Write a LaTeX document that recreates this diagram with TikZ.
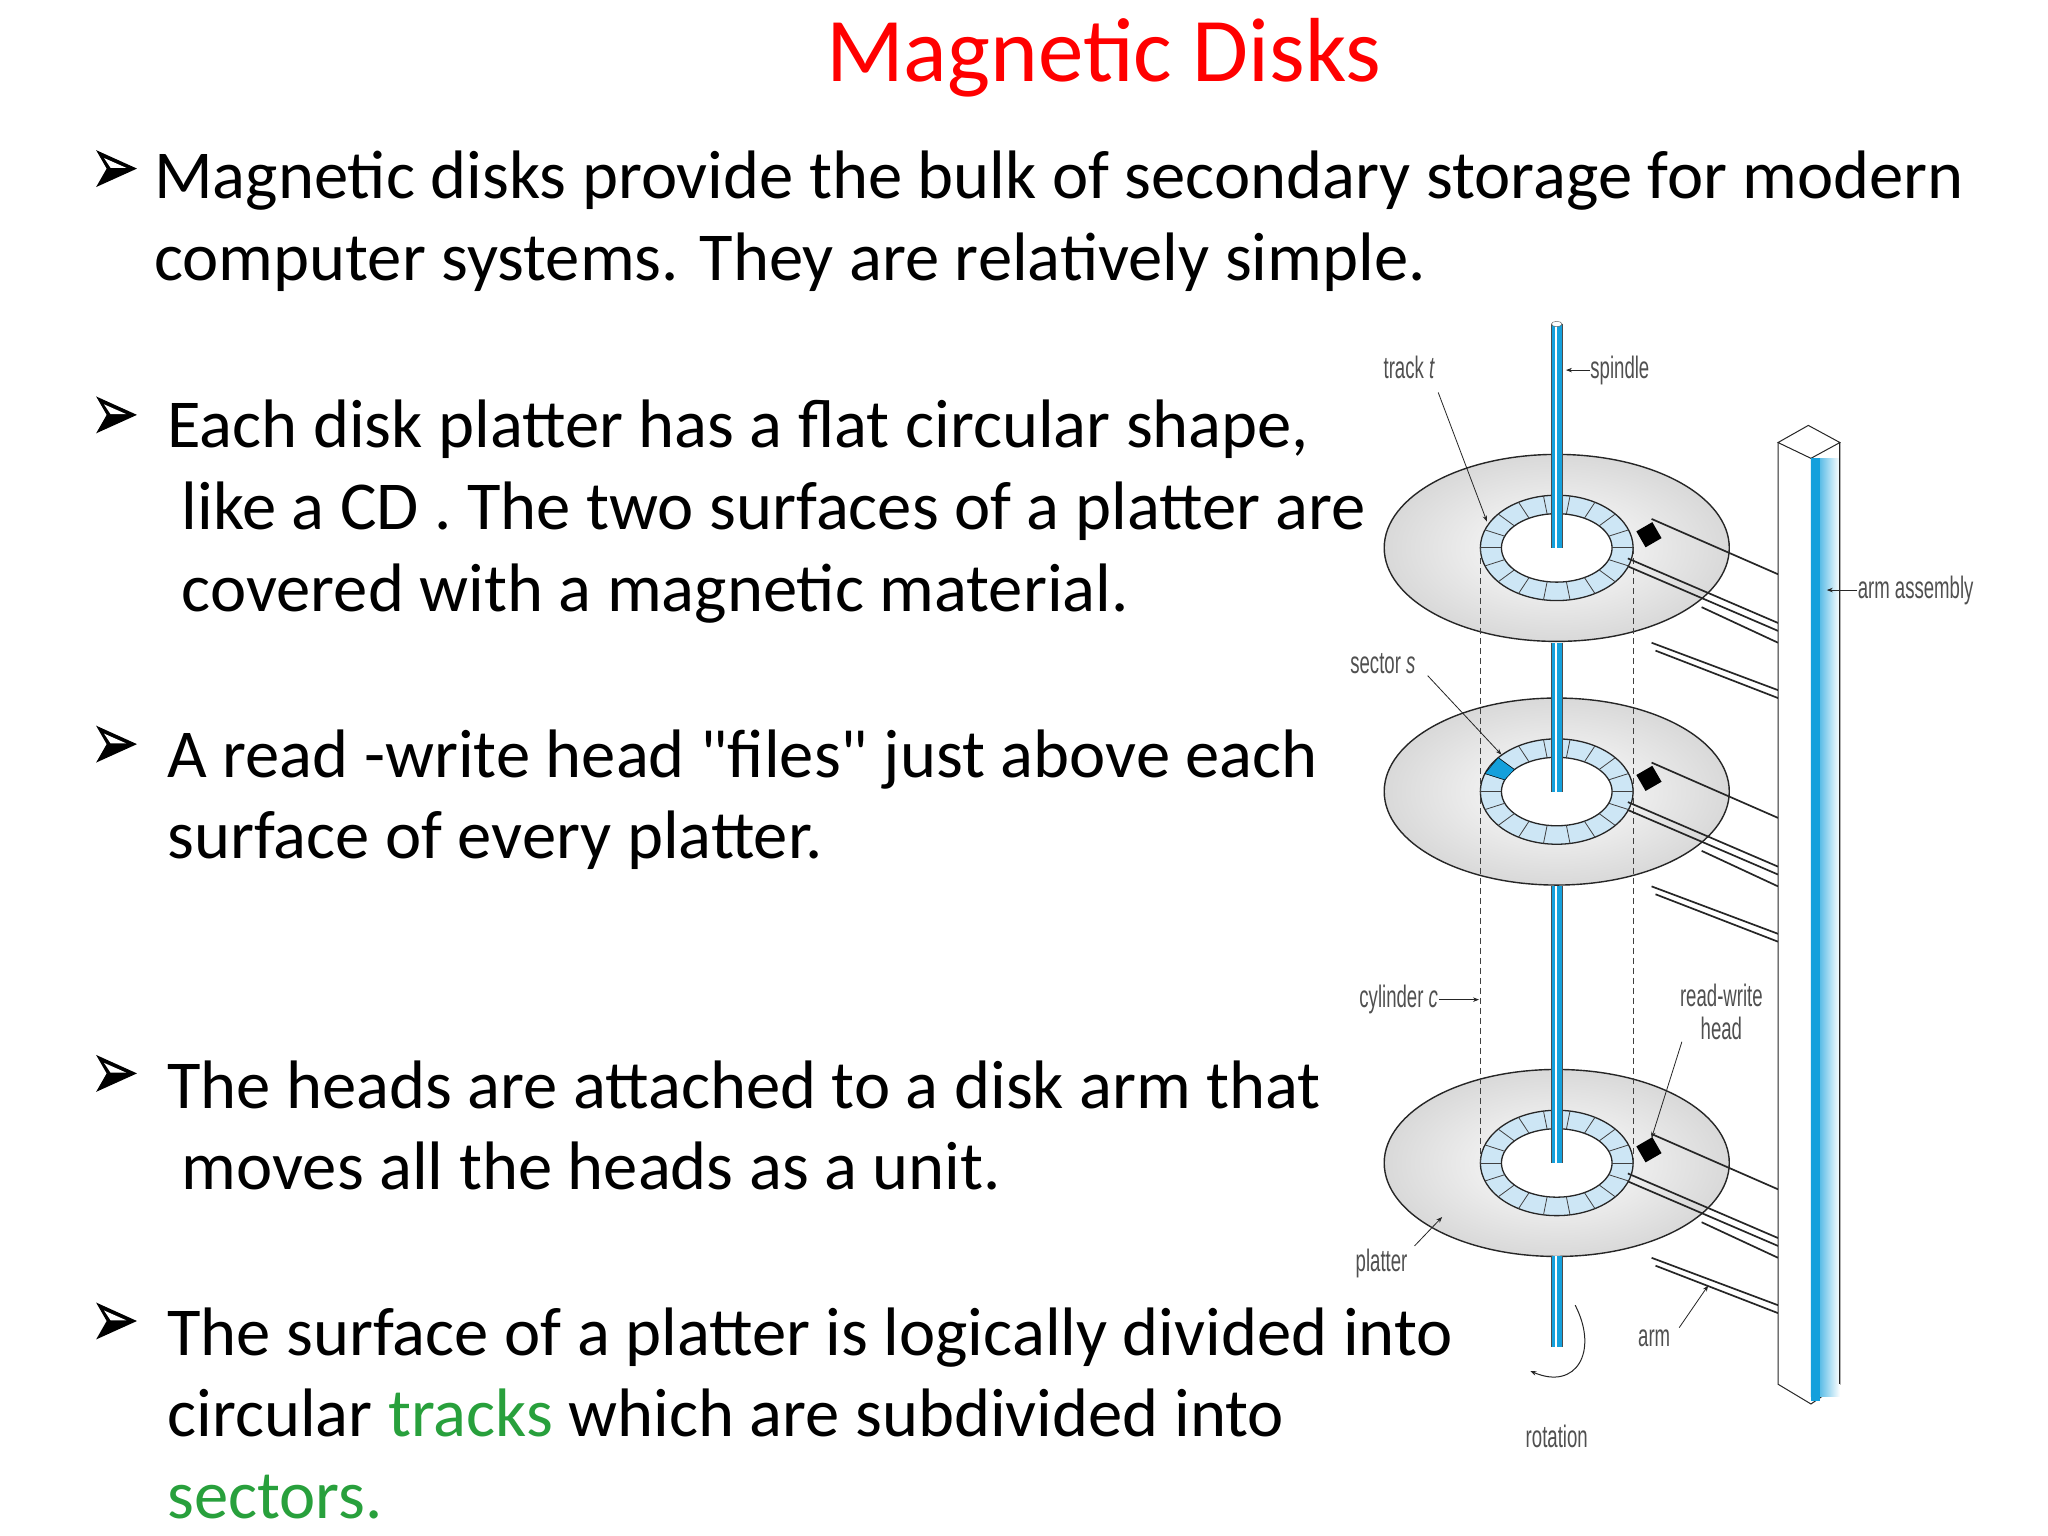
\documentclass[tikz,border=0pt]{standalone}
\usepackage{fontspec}
\setmainfont{Carlito}[Ligatures=TeXOff]
\newfontfamily\lblfont{Liberation Sans}
\usetikzlibrary{arrows.meta}
\definecolor{spc}{RGB}{20,160,220}
\definecolor{ringc}{RGB}{205,230,245}
\definecolor{lblc}{RGB}{80,80,80}
\definecolor{grn}{RGB}{40,160,60}
\begin{document}
\begin{tikzpicture}[x=1.317pt,y=-1.317pt,
  body/.style={anchor=base west,inner sep=0pt,font=\fontsize{68.6}{80}\selectfont},
  lbl/.style={inner sep=1pt,text=lblc,font=\lblfont\fontsize{31}{33}\selectfont,xscale=0.6},
  pt/.style={draw=black!85,line width=0.8pt,-{Stealth[length=6pt]}},
  arm/.style={line width=1.7pt,black!85},
  platter/.style={draw=black!85,line width=1.4pt,inner color=white,outer color=gray!30}]
\useasboundingbox (0,0) rectangle (1555,1166);
\fill[white] (0,0) rectangle (1555,1166);
\def\barr#1#2{\fill[black] (#1-15,#2-14) -- (#1+16,#2) -- (#1-15,#2+14) -- (#1-7,#2) -- cycle;
  \fill[white] (#1-9,#2-8) -- (#1+8,#2-0.5) -- (#1-4,#2-0.5) -- cycle;
  \coordinate (bb#2) at (#1,#2);}
% title and text
\node[inner sep=0pt,text=red,font=\fontsize{91}{93}\selectfont] (title) at (838,44) {Magnetic Disks};
\barr{88}{128}
\node[body] (t1a) at (117,151) {Magnetic disks provide the bulk of secondary storage for modern};
\node[body] (t1b) at (117,213) {computer systems. They are relatively simple.};
\barr{88}{315}
\node[body] (t2a) at (127,340) {Each disk platter has a flat circular shape,};
\node[body] (t2b) at (138,402) {like a CD . The two surfaces of a platter are};
\node[body] (t2c) at (138,464) {covered with a magnetic material.};
\barr{88}{565}
\node[body] (t3a) at (127,590) {A read -write head "files" just above each};
\node[body] (t3b) at (127,652) {surface of every platter.};
\barr{88}{815}
\node[body] (t4a) at (127,842) {The heads are attached to a disk arm that};
\node[body] (t4b) at (138,903) {moves all the heads as a unit.};
\barr{88}{1003}
\node[body] (t5a) at (127,1029) {The surface of a platter is logically divided into};
\node[body] (t5b) at (127,1091) {circular \textcolor{grn}{tracks} which are subdivided into};
\node[body] (t5c) at (127,1153) {\textcolor{grn}{sectors.}};
\begin{scope}[shift={(-8,-4)}]
% platters
\def\spseg#1#2{\fill[spc] (1186,#1) rectangle (1194,#2);
  \draw[black!70,line width=0.5pt] (1186,#1) -- (1186,#2) (1194,#1) -- (1194,#2);
  \fill[white] (1188.5,#1) rectangle (1190.5,#2);}
\def\platter#1{%
  \draw[platter] (1190,#1) ellipse [x radius=131,y radius=71];
  \draw[black!85,line width=1.3pt,fill=ringc] (1190,#1) ellipse [x radius=58,y radius=40];
  \draw[black!85,line width=1.3pt,fill=white] (1190,#1) ellipse [x radius=42,y radius=26];
  \foreach \a in {0,20,...,340}
    \draw[black!75,line width=0.8pt] ({1190+42*cos(\a)},{#1+26*sin(\a)}) -- ({1190+58*cos(\a)},{#1+40*sin(\a)});
}
\platter{420}
\spseg{250}{420}
\draw[black!70,fill=white] (1190,250) ellipse [x radius=4,y radius=2];
\platter{605}
\fill[spc,draw=black] ({1190+42*cos(200)},{605+26*sin(200)}) -- ({1190+58*cos(200)},{605+40*sin(200)}) -- ({1190+58*cos(220)},{605+40*sin(220)}) -- ({1190+42*cos(220)},{605+26*sin(220)}) -- cycle;
\spseg{492}{605}
\platter{887}
\spseg{677}{887}
\spseg{958}{1027}
% cylinder dashes
\draw[black!75,line width=0.7pt,dash pattern=on 6pt off 4pt] (1132,420) -- (1132,887) (1248,420) -- (1248,887);
% arms and heads
\foreach \c in {420,605,887}{
  \draw[arm] (1262,{\c-22}) -- (1358,{\c+20});
  \draw[arm] (1244,{\c+8}) -- (1358,{\c+57});
  \draw[arm] (1244,{\c+14}) -- (1358,{\c+63});
  \draw[arm] (1300,{\c+45}) -- (1358,{\c+72});
  \draw[arm] (1262,{\c+72}) -- (1358,{\c+108});
  \draw[arm] (1265,{\c+78}) -- (1358,{\c+114});
  \fill[black,rotate around={30:(1260,\c-10)}] (1253,{\c-17}) rectangle (1267,{\c-3});
}
% arm assembly
\fill[white] (1358,340) rectangle (1405,1055);
\draw[black!85,line width=1pt] (1358,340) -- (1358,1055) -- (1383,1070) -- (1405,1055) -- (1405,340);
\draw[black!85,line width=1pt,fill=white] (1358,340) -- (1381,327) -- (1405,340) -- (1383,352) -- cycle;
\shade[left color=spc,right color=white] (1383,352) rectangle (1405,1064);
\fill[spc] (1383,352) rectangle (1390,1068);
\draw[black!85,line width=1pt] (1405,340) -- (1405,1055);
% labels
\node[lbl] (ltrack) at (1078,283) {track \textit{t}};
\coordinate (ptrack) at (1137,400);
\draw[pt] (1100,302) -- (ptrack);
\node[lbl,anchor=west] (lspindle) at (1215,285) {spindle};
\draw[pt] (lspindle.west) -- (1197,285);
\node[lbl,anchor=west] (larm) at (1418,452) {arm assembly};
\draw[pt] (larm.west) -- (1395,452);
\node[lbl] (lsector) at (1058,508) {sector \textit{s}};
\draw[pt] (1092,517) -- (1148,577);
\node[lbl] (lcyl) at (1070,763) {cylinder \textit{c}};
\draw[pt] (lcyl.east) -- (1131,763);
\node[lbl,align=center] (lrw) at (1315,772) {read-write\\head};
\draw[pt] (1285,795) -- (1262,868);
\node[lbl] (lplat) at (1057,963) {platter};
\draw[pt] (1082,950) -- (1103,928);
\node[lbl] (larm2) at (1264,1020) {arm};
\draw[pt] (1283,1012) -- (1305,980);
\node[lbl] (lrot) at (1190,1095) {rotation};
\draw[pt,line width=1pt] (1204,995) .. controls (1222,1030) and (1205,1060) .. (1170,1045);
\end{scope}
\end{tikzpicture}
\end{document}
